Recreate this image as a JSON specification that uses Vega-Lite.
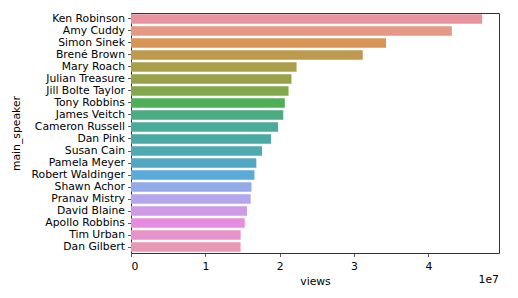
{
  "$schema": "https://vega.github.io/schema/vega-lite/v6.json",
  "width": 368,
  "height": 240,
  "autosize": {"type": "none"},
  "padding": {"left": 131, "top": 13, "right": 19, "bottom": 45},
  "background": "white",
  "title": {"text": "1e7", "orient": "bottom", "anchor": "end", "frame": "group", "font": "DejaVu Sans", "fontSize": 10.8, "fontWeight": "normal", "color": "#000000", "offset": -12, "baseline": "top"},
  "data": {"values": [
    {"main_speaker": "Ken Robinson", "views": 47230000},
    {"main_speaker": "Amy Cuddy", "views": 43160000},
    {"main_speaker": "Simon Sinek", "views": 34300000},
    {"main_speaker": "Brené Brown", "views": 31170000},
    {"main_speaker": "Mary Roach", "views": 22270000},
    {"main_speaker": "Julian Treasure", "views": 21590000},
    {"main_speaker": "Jill Bolte Taylor", "views": 21190000},
    {"main_speaker": "Tony Robbins", "views": 20690000},
    {"main_speaker": "James Veitch", "views": 20480000},
    {"main_speaker": "Cameron Russell", "views": 19790000},
    {"main_speaker": "Dan Pink", "views": 18830000},
    {"main_speaker": "Susan Cain", "views": 17630000},
    {"main_speaker": "Pamela Meyer", "views": 16860000},
    {"main_speaker": "Robert Waldinger", "views": 16600000},
    {"main_speaker": "Shawn Achor", "views": 16210000},
    {"main_speaker": "Pranav Mistry", "views": 16100000},
    {"main_speaker": "David Blaine", "views": 15600000},
    {"main_speaker": "Apollo Robbins", "views": 15300000},
    {"main_speaker": "Tim Urban", "views": 14750000},
    {"main_speaker": "Dan Gilbert", "views": 14740000}
  ]},
  "layer": [
    {
      "mark": {"type": "bar", "opacity": 1},
      "encoding": {
        "y": {
          "field": "main_speaker", "type": "nominal", "sort": null,
          "scale": {"paddingInner": 0.2, "paddingOuter": 0.1},
          "axis": {"title": "main_speaker", "titlePadding": 10, "labelPadding": 3, "tickSize": 3.5, "titleFontWeight": "normal"}
        },
        "x": {
          "field": "views", "type": "quantitative",
          "scale": {"domain": [0, 49500000], "nice": false, "zero": true},
          "axis": {"title": "views", "values": [0, 10000000, 20000000, 30000000, 40000000], "labelExpr": "format(datum.value / 10000000, 'd')", "grid": false, "tickSize": 3.5, "labelPadding": 4, "titlePadding": 4, "titleFontWeight": "normal"}
        },
        "color": {
          "field": "main_speaker", "type": "nominal", "sort": null, "legend": null,
          "scale": {"range": ["#e8949f", "#e59985", "#d99553", "#bd9a4d", "#a99f4a", "#99a24b", "#83a84c", "#4faf58", "#4bab83", "#4aab98", "#4aa9a2", "#4eaab0", "#52a8c3", "#5aaadb", "#92aae8", "#b5a6ec", "#cf99e6", "#e78be0", "#e892ca", "#e897b4"]}
        }
      }
    },
    {
      "mark": {"type": "bar", "opacity": 0},
      "encoding": {
        "y": {
          "field": "main_speaker", "type": "nominal", "sort": null,
          "axis": {"orient": "right", "title": null, "labels": false, "ticks": false, "domain": true}
        },
        "x": {
          "field": "views", "type": "quantitative",
          "axis": {"orient": "top", "title": null, "labels": false, "ticks": false, "domain": true, "grid": false}
        }
      }
    }
  ],
  "resolve": {"axis": {"x": "independent", "y": "independent"}},
  "config": {
    "font": "DejaVu Sans",
    "view": {"stroke": null},
    "axis": {"labelFont": "DejaVu Sans", "titleFont": "DejaVu Sans", "labelFontSize": 10.8, "titleFontSize": 10.8, "labelColor": "#000000", "titleColor": "#000000", "domainColor": "#333333", "tickColor": "#333333", "tickWidth": 0.8, "domainWidth": 1, "grid": false}
  }
}
